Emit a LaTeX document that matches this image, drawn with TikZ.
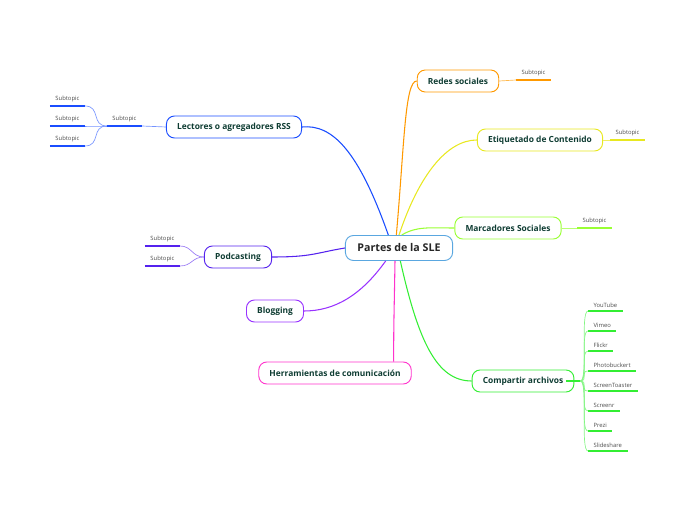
\documentclass[tikz,border=0pt]{standalone}
\usepackage{fontspec}
\setmainfont{Open Sans}
\usetikzlibrary{positioning}
\definecolor{txt}{HTML}{0F3D33}
\definecolor{cblue}{HTML}{5AA7E0}
\definecolor{corange}{HTML}{FF9900}
\definecolor{cyellow}{HTML}{E8E820}
\definecolor{clime}{HTML}{99FF33}
\definecolor{cgreen}{HTML}{33EE33}
\definecolor{cmag}{HTML}{FF33CC}
\definecolor{cpurple}{HTML}{9933FF}
\definecolor{cindigo}{HTML}{5522EE}
\definecolor{crss}{HTML}{1A4DFF}
\begin{document}
\begin{tikzpicture}[
  x=0.75pt,y=-0.75pt,
  topic/.style={
    draw,
    rounded corners=6pt,
    fill=white,
    text=txt,
    font=\fontsize{6.3}{8}\selectfont\bfseries,
    minimum height=16.5pt,
    inner xsep=8pt,
    line width=0.7pt
  },
  main/.style={
    topic,
    draw=cblue,
    font=\fontsize{8}{10}\selectfont\bfseries,
    text=black!85,
    minimum height=18.75pt,
    inner xsep=9pt
  },
  sub/.style={
    anchor=south west,
    text=black!70,
    font=\fontsize{4.4}{5}\selectfont,
    inner xsep=4pt,
    inner ysep=2.5pt
  },
  link/.style={line width=0.8pt},
  fan/.style={line width=0.5pt}
]
\useasboundingbox (0,0) rectangle (697,520);

% topics
\node[main] (sle) at (399,248) {Partes de la SLE};
\node[topic,draw=corange] (redes) at (458,81) {Redes sociales};
\node[topic,draw=cyellow] (etiq) at (540,140) {Etiquetado de Contenido};
\node[topic,draw=clime] (marc) at (508,228) {Marcadores Sociales};
\node[topic,draw=cgreen] (comp) at (523,381) {Compartir archivos};
\node[topic,draw=cmag] (herr) at (335,373) {Herramientas de comunicación};
\node[topic,draw=cpurple] (blog) at (275,311) {Blogging};
\node[topic,draw=cindigo] (podc) at (238,257) {Podcasting};
\node[topic,draw=crss] (rss) at (234,127) {Lectores o agregadores RSS};

% subtopics
\node[sub] (redes1) at (516,80) {Subtopic};
\node[sub] (etiq1) at (610,140) {Subtopic};
\node[sub] (marc1) at (577,228) {Subtopic};
\node[sub,anchor=south east] (podc1) at (180,246) {Subtopic};
\node[sub,anchor=south east] (podc2) at (180,266) {Subtopic};
\node[sub,anchor=south east] (rss1) at (142,126) {Subtopic};
\node[sub,anchor=south east] (rssa) at (85,106) {Subtopic};
\node[sub,anchor=south east] (rssb) at (85,126) {Subtopic};
\node[sub,anchor=south east] (rssc) at (85,146) {Subtopic};
\foreach \n/\t [count=\i] in {YouTube,Vimeo,Flickr,Photobuckert,ScreenToaster,Screenr,Prezi,Slideshare}
  \node[sub] (file\i) at (588,{291+20*\i}) {\t};

% underlines
\foreach \n/\c in {redes1/corange,etiq1/cyellow,marc1/clime,podc1/cindigo,podc2/cindigo,rss1/crss,rssa/crss,rssb/crss,rssc/crss}
  \draw[\c,line width=1pt] (\n.south west) -- (\n.south east);
\foreach \i in {1,...,8}
  \draw[cgreen,line width=1pt] (file\i.south west) -- (file\i.south east);

% main branches
\draw[link,corange] ([xshift=-2pt]sle.north) .. controls +(8,-90) and +(-12,0) .. (redes.west);
\draw[link,cyellow] (sle.north) .. controls +(20,-60) and +(-30,0) .. (etiq.west);
\draw[link,clime] ([xshift=2pt]sle.north) .. controls +(15,-9) and +(-25,0) .. (marc.west);
\draw[link,cgreen] ([xshift=1pt]sle.south) .. controls +(18,80) and +(-35,0) .. (comp.west);
\draw[link,cmag] ([xshift=-3pt]sle.south) .. controls +(-1,60) and +(0,-40) .. ([xshift=44pt]herr.north);
\draw[link,cpurple] ([xshift=-10pt]sle.south) .. controls +(-25,35) and +(30,0) .. (blog.east);
\draw[link,cindigo] (sle.west) .. controls +(-30,5) and +(40,0) .. (podc.east);
\draw[link,crss] ([xshift=-8pt]sle.north) .. controls +(-30,-85) and +(30,-3) .. (rss.east);

% sub branches
\draw[fan,corange!70] (redes.east) .. controls +(8,0) and +(-8,0) .. (redes1.south west);
\draw[fan,cyellow!70] (etiq.east) .. controls +(4,0) and +(-4,0) .. (etiq1.south west);
\draw[fan,clime!70] (marc.east) .. controls +(8,0) and +(-8,0) .. (marc1.south west);
\foreach \n in {podc1,podc2}
  \draw[fan,cindigo!60] (podc.west) .. controls +(-12,0) and +(12,0) .. (\n.south east);
\draw[fan,crss!60] (rss.west) -- (rss1.south east);
\foreach \n in {rssa,rssb,rssc}
  \draw[fan,crss!60] (rss1.south west) .. controls +(-16,0) and +(16,0) .. (\n.south east);
\draw[cgreen,line width=1.2pt] ([xshift=-6pt]comp.east) -- ++(14,0) coordinate (hub);
\foreach \i in {1,...,8}
  \draw[fan,cgreen!60] (hub) .. controls +(8,0) and +(-8,0) .. (file\i.south west);
\end{tikzpicture}
\end{document}
